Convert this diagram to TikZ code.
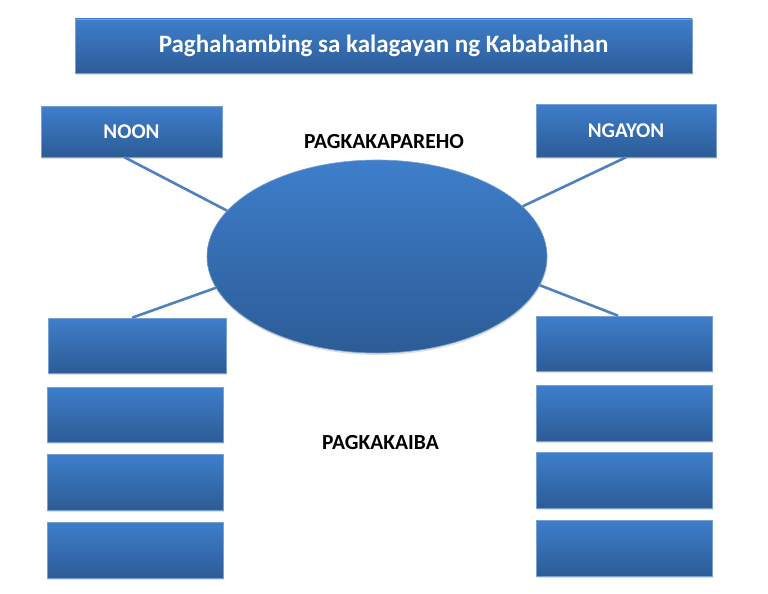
\documentclass[tikz,border=0pt]{standalone}
\usepackage{fontspec}
\setmainfont{Carlito}
\usetikzlibrary{shapes.geometric,shadows}

\definecolor{boxtop}{RGB}{62,126,203}
\definecolor{boxbottom}{RGB}{44,92,150}
\definecolor{boxedge}{RGB}{120,160,210}
\definecolor{linkblue}{RGB}{79,129,189}

\begin{document}
\begin{tikzpicture}[x=1pt, y=-1pt,
    bluebox/.style = {rectangle, inner sep=0pt, top color=boxtop, bottom color=boxbottom,
      draw=boxedge, line width=0.6pt, text=white, font=\bfseries\fontsize{21}{25}\selectfont,
      drop shadow={shadow xshift=0.5pt, shadow yshift=-2pt, opacity=0.25}},
    blueoval/.style = {ellipse, inner sep=0pt, minimum width=340pt, minimum height=193pt,
      top color=boxtop, bottom color=boxbottom, draw=boxedge, line width=0.6pt,
      drop shadow={shadow xshift=0.5pt, shadow yshift=-2pt, opacity=0.25}},
    link/.style = {draw=linkblue, line width=2.6pt},
    caption/.style = {font=\bfseries\fontsize{21.5}{25}\selectfont}]
    \useasboundingbox (0, 0) rectangle (768, 594);

    \node[bluebox, minimum width=617pt, minimum height=54pt, font=\bfseries\fontsize{25}{30}\selectfont]
      (title) at (383.5, 46) {Paghahambing sa kalagayan ng Kababaihan};
    \node[bluebox, minimum width=181pt, minimum height=51pt] (noon) at (131.5, 131.5) {NOON};
    \node[bluebox, minimum width=180pt, minimum height=53pt] (ngayon) at (626, 130.5) {NGAYON};
    \node[caption] (pagkakapareho) at (384, 142) {PAGKAKAPAREHO};
    \node[caption] (pagkakaiba) at (380.5, 443) {PAGKAKAIBA};

    \node[bluebox, minimum width=178pt, minimum height=55pt] (noon one) at (137, 345.5) {};
    \node[bluebox, minimum width=176pt, minimum height=55pt] (noon two) at (135, 414.5) {};
    \node[bluebox, minimum width=176pt, minimum height=56pt] (noon three) at (135, 482) {};
    \node[bluebox, minimum width=176pt, minimum height=56pt] (noon four) at (135, 550) {};

    \node[bluebox, minimum width=176pt, minimum height=55pt] (ngayon one) at (624, 343.5) {};
    \node[bluebox, minimum width=176pt, minimum height=56pt] (ngayon two) at (624, 413) {};
    \node[bluebox, minimum width=176pt, minimum height=56pt] (ngayon three) at (624, 480) {};
    \node[bluebox, minimum width=176pt, minimum height=56pt] (ngayon four) at (624, 548) {};

    \node[blueoval] (ugnayan) at (377, 256.5) {};
    \draw[link] (noon.-105) -- (ugnayan.163);
    \draw[link] (noon one.100) -- (ugnayan.191);
    \draw[link] (ngayon.south) -- (ugnayan.19);
    \draw[link] (ngayon one.102) -- (ugnayan.-10);
  \end{tikzpicture}
\end{document}
